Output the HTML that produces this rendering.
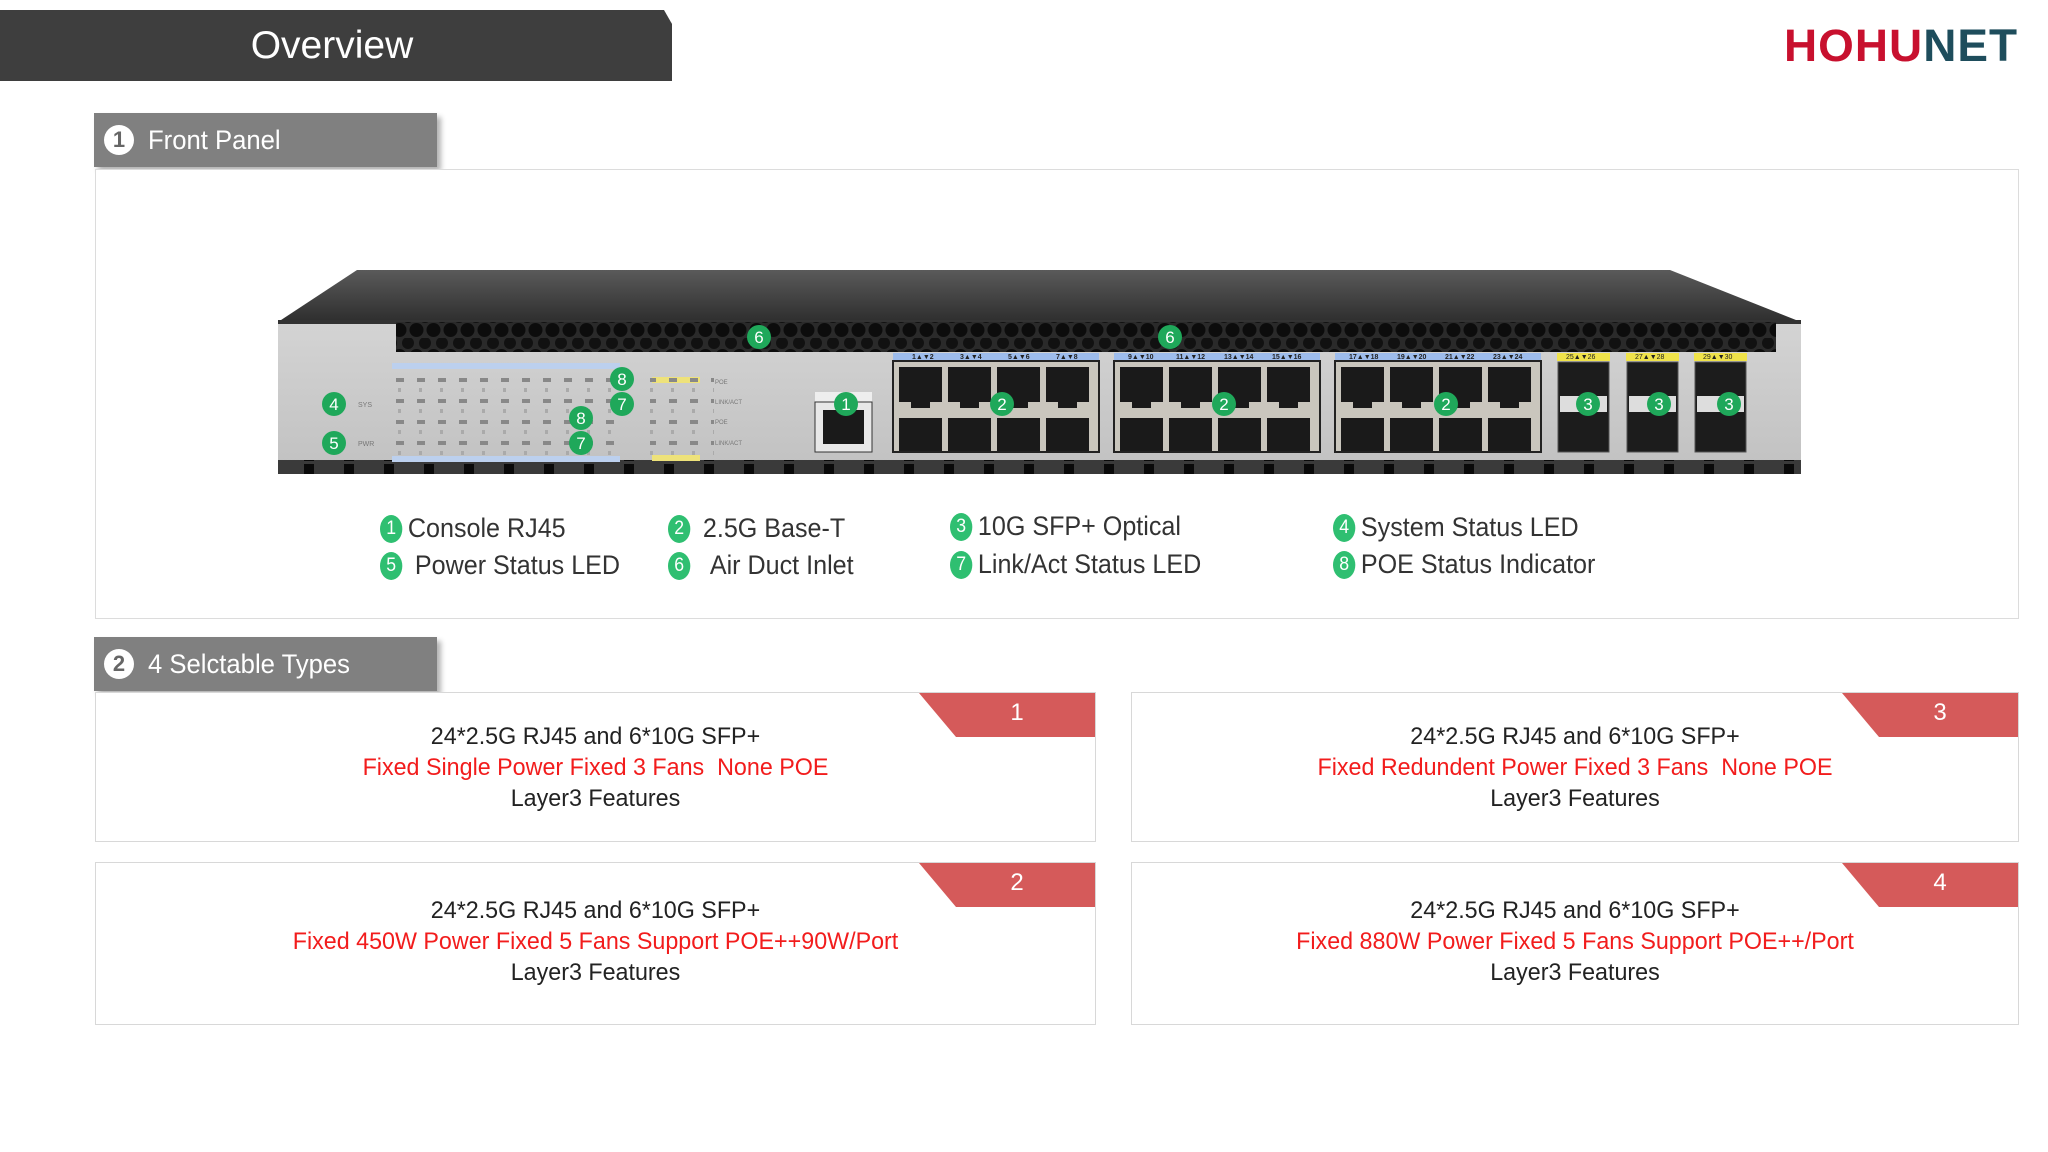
<!DOCTYPE html>
<html><head><meta charset="utf-8">
<style>
*{margin:0;padding:0;box-sizing:border-box}
body{width:2048px;height:1152px;background:#fff;position:relative;overflow:hidden;font-family:"Liberation Sans",sans-serif}
.abs{position:absolute}
.banner{left:0;top:10px;width:672px;height:71px;background:#3e3e3e;box-shadow:4px 5px 6px rgba(0,0,0,.35);color:#fff;font-size:39px;text-align:center;line-height:71px;padding-right:8px;clip-path:polygon(0 0,664px 0,672px 14px,672px 100%,0 100%)}
.logo{left:1784px;top:20px;font-size:45px;font-weight:bold;letter-spacing:1px;transform:scaleX(1.02);transform-origin:left}
.tab{left:94px;width:343px;height:54px;background:#808080;box-shadow:4px 4px 5px rgba(0,0,0,.3);color:#fff;font-size:27px;line-height:54px}
.tab .c{position:absolute;left:10px;top:12px;width:30px;height:30px;border-radius:50%;background:#fff;color:#666;font-size:22px;font-weight:bold;text-align:center;line-height:30px}
.tab span.t{position:absolute;left:54px;transform:scaleX(.95);transform-origin:left}
.box{border:1.5px solid #dcdcdc;background:#fff}
.leg{font-size:27px;color:#333;white-space:nowrap;transform:scaleX(.93);transform-origin:left}
.gc{display:inline-block;width:24px;height:28px;border-radius:50%;background:#2fbf71;color:#fff;font-size:19px;text-align:center;line-height:28px;vertical-align:3px;margin-right:6px}
.card{border:1.5px solid #d8d8d8;background:#fff}
.card .txt{position:absolute;left:0;right:0;top:28px;text-align:center;font-size:24px;line-height:31px;color:#222;transform:scaleX(.97)}
.card .r{color:#f21c1c}
.tag{position:absolute;top:0;right:0;width:176px;height:44px;background:#d55a5a;clip-path:polygon(0 0,100% 0,100% 100%,37px 100%);color:#fff;font-size:24px;text-align:center;line-height:40px;padding-left:20px}
</style></head><body>

<div class="abs banner">Overview</div>
<div class="abs logo"><span style="color:#c8102e">HOHU</span><span style="color:#1e4d5c">NET</span></div>

<div class="abs tab" style="top:113px"><div class="c">1</div><span class="t">Front Panel</span></div>
<div class="abs box" style="left:95px;top:169px;width:1924px;height:450px"></div>

<svg class="abs" style="left:0;top:0" width="2048" height="1152" viewBox="0 0 2048 1152">
<defs>
<linearGradient id="face" x1="0" y1="0" x2="0" y2="1"><stop offset="0" stop-color="#d4d4d4"/><stop offset="1" stop-color="#c2c2c2"/></linearGradient>
<linearGradient id="top" x1="0" y1="0" x2="0" y2="1"><stop offset="0" stop-color="#5a5a5a"/><stop offset="1" stop-color="#2e2e2e"/></linearGradient>
<pattern id="hex" width="17" height="26" patternUnits="userSpaceOnUse"><rect width="17" height="26" fill="#2a2a2a"/><circle cx="8.5" cy="18" r="7" fill="#0c0c0c"/><circle cx="0" cy="5" r="6" fill="#111"/><circle cx="17" cy="5" r="6" fill="#111"/></pattern>
<pattern id="slot" x="290" width="40" height="14" patternUnits="userSpaceOnUse"><rect width="40" height="14" fill="#3a3a3a"/><rect x="14" y="2" width="10" height="11" fill="#0a0a0a"/></pattern>
<pattern id="rj" x="897" y="365" width="49" height="51" patternUnits="userSpaceOnUse"><rect x="2" y="2" width="43" height="35" fill="#1a1a1a"/><rect x="14" y="37" width="19" height="6" fill="#1a1a1a"/></pattern>
<pattern id="rj2" x="1118" y="365" width="49" height="51" patternUnits="userSpaceOnUse"><rect x="2" y="2" width="43" height="35" fill="#1a1a1a"/><rect x="14" y="37" width="19" height="6" fill="#1a1a1a"/></pattern>
<pattern id="rj3" x="1339" y="365" width="49" height="51" patternUnits="userSpaceOnUse"><rect x="2" y="2" width="43" height="35" fill="#1a1a1a"/><rect x="14" y="37" width="19" height="6" fill="#1a1a1a"/></pattern>
<pattern id="led" x="392" y="378" width="21" height="21" patternUnits="userSpaceOnUse"><rect x="4" y="0" width="8" height="4" fill="#888"/><rect x="6" y="10" width="3" height="4" fill="#aaa"/></pattern>
</defs>
<polygon points="357,270 1670,270 1801,322 278,322" fill="url(#top)"/>
<rect x="278" y="320" width="1523" height="144" fill="url(#face)"/>
<rect x="278" y="320" width="1523" height="4" fill="#333"/>
<rect x="396" y="322" width="1380" height="30" fill="url(#hex)"/>
<rect x="278" y="460" width="1523" height="14" fill="url(#slot)"/>
<rect x="392" y="363" width="228" height="6" fill="#bcd0ee"/>
<rect x="392" y="456" width="228" height="6" fill="#bcd0ee"/>
<rect x="652" y="377" width="48" height="6" fill="#eee27a"/>
<rect x="652" y="455" width="48" height="6" fill="#eee27a"/>
<rect x="392" y="378" width="224" height="80" fill="url(#led)"/>
<rect x="650" y="378" width="64" height="80" fill="url(#led)"/>
<text x="358" y="407" font-size="7" fill="#777">SYS</text>
<text x="358" y="446" font-size="7" fill="#777">PWR</text>
<text x="715" y="384" font-size="6" fill="#777">POE</text><text x="715" y="404" font-size="6" fill="#777">LINK/ACT</text>
<text x="715" y="424" font-size="6" fill="#777">POE</text><text x="715" y="445" font-size="6" fill="#777">LINK/ACT</text>
<rect x="815" y="392" width="57" height="10" fill="#eee"/>
<rect x="815" y="402" width="57" height="50" fill="#e8e8e8" stroke="#333"/>
<rect x="823" y="410" width="41" height="34" fill="#1a1a1a"/>
<rect x="893" y="353" width="206" height="8" fill="#9dbcec"/>
<rect x="1114" y="353" width="206" height="8" fill="#9dbcec"/>
<rect x="1335" y="353" width="206" height="8" fill="#9dbcec"/>
<rect x="893" y="361" width="206" height="91" fill="#c9c6bd" stroke="#222" stroke-width="2"/>
<rect x="1114" y="361" width="206" height="91" fill="#c9c6bd" stroke="#222" stroke-width="2"/>
<rect x="1335" y="361" width="206" height="91" fill="#c9c6bd" stroke="#222" stroke-width="2"/>
<rect x="897" y="365" width="196" height="86" fill="url(#rj)"/>
<rect x="1118" y="365" width="196" height="86" fill="url(#rj2)"/>
<rect x="1339" y="365" width="196" height="86" fill="url(#rj3)"/>
<g fill="#3a3a3a" opacity=".5"><rect x="897" y="416" width="196" height="0"/></g>
<g font-size="7" fill="#222" font-weight="bold">
<text x="912" y="359">1▲▼2</text><text x="960" y="359">3▲▼4</text><text x="1008" y="359">5▲▼6</text><text x="1056" y="359">7▲▼8</text>
<text x="1128" y="359">9▲▼10</text><text x="1176" y="359">11▲▼12</text><text x="1224" y="359">13▲▼14</text><text x="1272" y="359">15▲▼16</text>
<text x="1349" y="359">17▲▼18</text><text x="1397" y="359">19▲▼20</text><text x="1445" y="359">21▲▼22</text><text x="1493" y="359">23▲▼24</text>
</g>
<g>
<rect x="1557" y="353" width="53" height="8" fill="#efe24a"/><rect x="1626" y="353" width="53" height="8" fill="#efe24a"/><rect x="1694" y="353" width="53" height="8" fill="#efe24a"/>
<rect x="1558" y="362" width="51" height="90" fill="#1c1c1c" stroke="#555"/><rect x="1627" y="362" width="51" height="90" fill="#1c1c1c" stroke="#555"/><rect x="1695" y="362" width="51" height="90" fill="#1c1c1c" stroke="#555"/>
<rect x="1560" y="396" width="47" height="16" fill="#ddd"/><rect x="1629" y="396" width="47" height="16" fill="#ddd"/><rect x="1697" y="396" width="47" height="16" fill="#ddd"/>
<text x="1566" y="359" font-size="7" fill="#222">25▲▼26</text><text x="1635" y="359" font-size="7" fill="#222">27▲▼28</text><text x="1703" y="359" font-size="7" fill="#222">29▲▼30</text>
</g>
<g fill="#1fa85a">
<circle cx="759" cy="337" r="12"/><circle cx="1170" cy="337" r="12"/>
<circle cx="622" cy="379" r="12"/><circle cx="581" cy="418" r="12"/>
<circle cx="622" cy="404" r="12"/><circle cx="581" cy="443" r="12"/>
<circle cx="334" cy="404" r="12"/><circle cx="334" cy="443" r="12"/>
<circle cx="846" cy="404" r="12"/>
<circle cx="1002" cy="404" r="12"/><circle cx="1224" cy="404" r="12"/><circle cx="1446" cy="404" r="12"/>
<circle cx="1588" cy="404" r="12"/><circle cx="1659" cy="404" r="12"/><circle cx="1729" cy="404" r="12"/>
</g>
<g fill="#fff" font-size="17" text-anchor="middle">
<text x="759" y="343">6</text><text x="1170" y="343">6</text>
<text x="622" y="385">8</text><text x="581" y="424">8</text>
<text x="622" y="410">7</text><text x="581" y="449">7</text>
<text x="334" y="410">4</text><text x="334" y="449">5</text>
<text x="846" y="410">1</text>
<text x="1002" y="410">2</text><text x="1224" y="410">2</text><text x="1446" y="410">2</text>
<text x="1588" y="410">3</text><text x="1659" y="410">3</text><text x="1729" y="410">3</text>
</g>
</svg>

<div class="abs leg" style="left:380px;top:513px"><span class="gc">1</span>Console RJ45</div>
<div class="abs leg" style="left:380px;top:550px"><span class="gc">5</span>&nbsp;Power Status LED</div>
<div class="abs leg" style="left:668px;top:513px"><span class="gc">2</span>&nbsp;2.5G Base-T</div>
<div class="abs leg" style="left:668px;top:550px"><span class="gc">6</span>&nbsp;&nbsp;Air Duct Inlet</div>
<div class="abs leg" style="left:950px;top:511px"><span class="gc">3</span>10G SFP+ Optical</div>
<div class="abs leg" style="left:950px;top:549px"><span class="gc">7</span>Link/Act Status LED</div>
<div class="abs leg" style="left:1333px;top:512px"><span class="gc">4</span>System Status LED</div>
<div class="abs leg" style="left:1333px;top:549px"><span class="gc">8</span>POE Status Indicator</div>

<div class="abs tab" style="top:637px"><div class="c">2</div><span class="t">4 Selctable Types</span></div>

<div class="abs card" style="left:95px;top:692px;width:1001px;height:150px"><div class="tag">1</div>
<div class="txt">24*2.5G RJ45 and 6*10G SFP+<br><span class="r">Fixed Single Power Fixed 3 Fans&nbsp; None POE</span><br>Layer3 Features</div></div>
<div class="abs card" style="left:1131px;top:692px;width:888px;height:150px"><div class="tag">3</div>
<div class="txt">24*2.5G RJ45 and 6*10G SFP+<br><span class="r">Fixed Redundent Power Fixed 3 Fans&nbsp; None POE</span><br>Layer3 Features</div></div>
<div class="abs card" style="left:95px;top:862px;width:1001px;height:163px"><div class="tag">2</div>
<div class="txt" style="top:32px">24*2.5G RJ45 and 6*10G SFP+<br><span class="r">Fixed 450W Power Fixed 5 Fans Support POE++90W/Port</span><br>Layer3 Features</div></div>
<div class="abs card" style="left:1131px;top:862px;width:888px;height:163px"><div class="tag">4</div>
<div class="txt" style="top:32px">24*2.5G RJ45 and 6*10G SFP+<br><span class="r">Fixed 880W Power Fixed 5 Fans Support POE++/Port</span><br>Layer3 Features</div></div>

<style>.abs svg{}</style>
<div class="abs" style="left:897px;top:416px;width:0;height:0"></div>
</body></html>
